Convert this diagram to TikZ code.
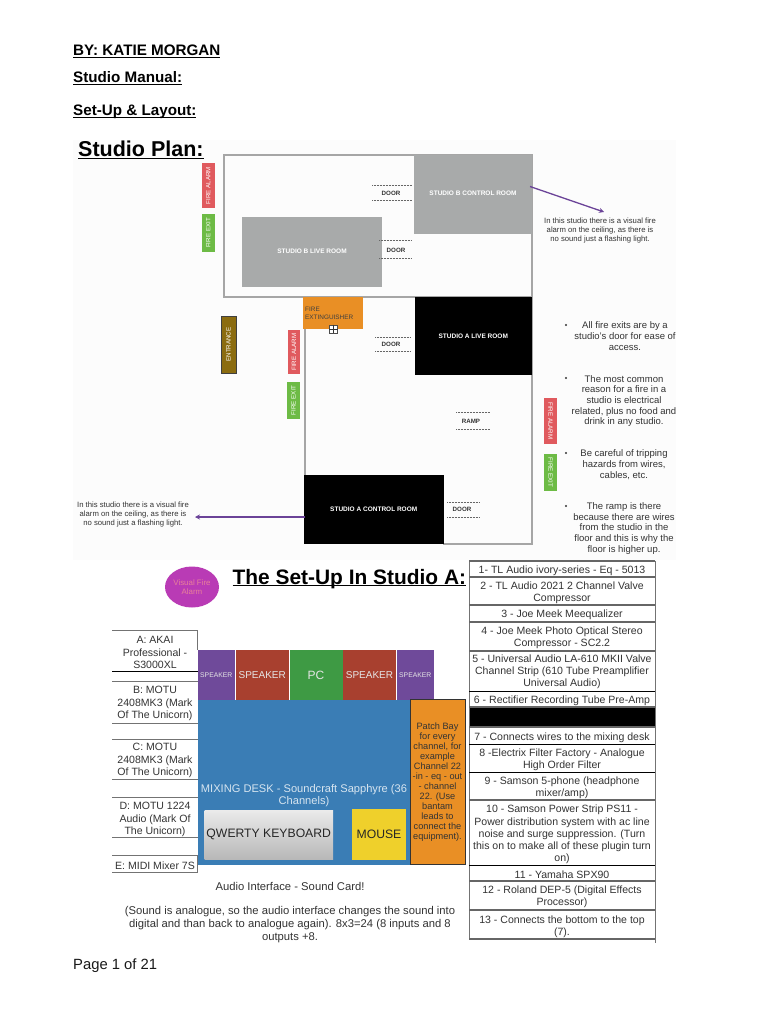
\documentclass[tikz,border=0pt]{standalone}
\usepackage{fontspec}
\setmainfont{Liberation Sans}
\usetikzlibrary{arrows.meta,shapes.geometric}
\definecolor{alarm}{HTML}{E05A5E}
\definecolor{fexit}{HTML}{6DBB45}
\definecolor{entr}{HTML}{8B6C10}
\definecolor{orng}{HTML}{E98F25}
\definecolor{roomgray}{HTML}{A8AAAA}
\definecolor{wall}{HTML}{A6A6A6}
\definecolor{sppurple}{HTML}{6F4A9A}
\definecolor{spred}{HTML}{A8402F}
\definecolor{pcgreen}{HTML}{3E9A44}
\definecolor{deskblue}{HTML}{3A7DB5}
\definecolor{arrowp}{HTML}{6B4398}
\definecolor{txt}{HTML}{333333}
\definecolor{vfa}{HTML}{B93BB5}
\definecolor{vfat}{HTML}{E8809A}
\definecolor{mousey}{HTML}{EFD02B}
\newcommand{\fs}[2]{\fontsize{#1}{#2}\selectfont}
\newcommand{\ul}[1]{\underline{\smash{#1}}}
\newcommand{\bx}[6][]{\node[#2,minimum width=#5-#3,minimum height=#6-#4,#1] at ({(#3+#5)/2},{(#4+#6)/2})}
\tikzset{
 x=1pt,y=-1pt,
 head/.style={anchor=base west,font=\bfseries\fs{15.2}{17},text=black,inner sep=0},
 box/.style={inner sep=0,outer sep=0,draw=none},
 room/.style={box,text=white,font=\bfseries\fs{6.5}{7}},
 tag/.style={box,text=white,font=\fs{6.2}{7}},
 doorlbl/.style={inner sep=0,font=\bfseries\fs{6.2}{7},text=black!80},
 doorline/.style={black!60,densely dotted,line width=.5pt},
 wallline/.style={wall,line width=1.2pt},
 note/.style={inner sep=0,align=center,font=\fs{7.7}{9},text=txt},
 bullet/.style={inner sep=0,align=center,font=\fs{9.5}{10.7},text=txt},
 cell/.style={inner sep=0,align=center,font=\fs{10.55}{12.2},text=txt,yshift=-1.5pt},
 spk/.style={box,text=white!90!black},
 rowline/.style={black!60,line width=1.1pt},
 note2/.style={inner sep=0,align=center,font=\fs{11.25}{13},text=txt},
 parrow/.style={arrowp,line width=1.3pt,-{Stealth[length=5pt,width=5pt]}},
}
\begin{document}
\begin{tikzpicture}
\useasboundingbox (0,0) rectangle (768,1024);
\fill[white] (0,0) rectangle (768,1024);
\fill[black!1] (73,140) rectangle (676,560);

\node[head] (h1) at (73,56) {\ul{BY: KATIE MORGAN}};
\node[head] (h2) at (73,83) {\ul{Studio Manual:}};
\node[head] (h3) at (73,116) {\ul{Set-Up \& Layout:}};
\node[anchor=base west,inner sep=0,font=\bfseries\fs{21.5}{24}] (plan) at (78,156.5) {\ul{Studio Plan:}};

% Studio B frame
\draw[wallline] (224,155) rectangle (532,297);
\bx[room,fill=roomgray]{box}{242}{217}{382}{287} (blive) {\raisebox{1pt}{STUDIO B LIVE ROOM}};
\bx[room,fill=roomgray]{box}{414}{155}{532}{234} (bctrl) {\raisebox{2.5pt}{STUDIO B CONTROL ROOM}};
% Studio A frame
\draw[wallline] (305,329) -- (305,475);
\draw[wallline] (532,297) -- (532,544) -- (443,544);
\bx[room,fill=black]{box}{414.5}{297}{532}{375} (alive) {STUDIO A LIVE ROOM};
\bx[room,fill=black]{box}{304}{475}{443.5}{544} (actrl) {STUDIO A CONTROL ROOM};
% Extinguisher
\bx[fill=orng]{box}{303}{297}{363}{329} (ext) {};
\node[anchor=west,inner sep=0,align=left,font=\fs{6.4}{8},text=black!75] (extl) at (305,313) {FIRE\\EXTINGUISHER};
\node[draw=black!70,fill=white,line width=.6pt,minimum size=8pt,inner sep=0] (plus) at (333.5,329) {};
\draw[black!80,line width=.5pt] (plus.north) -- (plus.south) (plus.west) -- (plus.east);

% Tags
\bx[tag,fill=alarm]{box}{202}{163}{214.5}{208} (a1) {\rotatebox{90}{FIRE ALARM}};
\bx[tag,fill=fexit]{box}{202}{214}{214.5}{252} (e1) {\rotatebox{90}{FIRE EXIT}};
\bx[tag,fill=entr,draw=black!75,line width=.8pt]{box}{221}{316}{236}{373} (ent) {\rotatebox{90}{ENTRANCE}};
\bx[tag,fill=alarm]{box}{288}{330}{300}{374} (a2) {\rotatebox{90}{FIRE ALARM}};
\bx[tag,fill=fexit]{box}{287}{381.5}{300}{419} (e2) {\rotatebox{90}{FIRE EXIT}};
\bx[tag,fill=alarm]{box}{544}{398}{557}{444} (a3) {\rotatebox{-90}{FIRE ALARM}};
\bx[tag,fill=fexit]{box}{544}{454}{557}{491} (e3) {\rotatebox{-90}{FIRE EXIT}};

% Doors
\node[doorlbl] (d1) at (391,193) {DOOR};
\draw[doorline] (372,185) -- (412,185) (372,200) -- (412,200);
\node[doorlbl] (d2) at (396,250.5) {DOOR};
\draw[doorline] (379,240) -- (411,240) (379,258.5) -- (411,258.5);
\node[doorlbl] (d3) at (391,344) {DOOR};
\draw[doorline] (375,337) -- (410,337) (375,351) -- (410,351);
\node[doorlbl] (d4) at (462,509) {DOOR};
\draw[doorline] (447,502) -- (480,502) (447,517) -- (480,517);
\node[doorlbl] (r1) at (471,421) {RAMP};
\draw[doorline] (456,412) -- (490,412) (456,429) -- (490,429);

% Notes and arrows
\node[note] (n1) at (600,231) {In this studio there is a visual fire\\alarm on the ceiling, as there is\\no sound just a flashing light.};
\node[note] (n2) at (133,515) {In this studio there is a visual fire\\alarm on the ceiling, as there is\\no sound just a flashing light.};
\coordinate (t1) at (604,212);
\coordinate (s1) at (530,186.5);
\coordinate (t2) at (195,517);
\coordinate (s2) at (305,517);
\draw[parrow] (s1) -- (t1);
\draw[parrow] (s2) -- (t2);

% Bullets
\node[bullet] (b1) at (625,336) {All fire exits are by a\\studio's door for ease of\\access.};
\node[bullet] (b2) at (624,401) {The most common\\reason for a fire in a\\studio is electrical\\related, plus no food and\\drink in any studio.};
\node[bullet] (b3) at (624,464.5) {Be careful of tripping\\hazards from wires,\\cables, etc.};
\node[bullet] (b4) at (624,528.5) {The ramp is there\\because there are wires\\from the studio in the\\floor and this is why the\\floor is higher up.};
\foreach \yy in {325,378,453,506}{\fill[black!80] (566,\yy) circle (1.1pt);}

% Set-up
\node[ellipse,fill=vfa,minimum width=54pt,minimum height=41pt,inner sep=0,align=center,font=\fs{7.9}{9.5},text=vfat] (vf) at (192,587) {Visual Fire\\Alarm};
\node[anchor=base west,inner sep=0,font=\bfseries\fs{20.9}{22}] (setup) at (232.5,584) {\ul{The Set-Up In Studio A:}};

% Desk
\bx[fill=deskblue]{box}{197.5}{700}{410}{865} (desk) {};
\bx[spk,fill=sppurple,font=\fs{6.8}{8}]{box}{197.5}{650}{235}{700} (s1b) {SPEAKER};
\bx[spk,fill=spred,font=\fs{10}{12}]{box}{235.5}{650}{289}{700} (s2b) {SPEAKER};
\bx[spk,fill=pcgreen,font=\fs{12}{14}]{box}{289.5}{650}{342.5}{700} (pc) {PC};
\bx[spk,fill=spred,font=\fs{10}{12}]{box}{343}{650}{396}{700} (s3b) {SPEAKER};
\bx[spk,fill=sppurple,font=\fs{6.8}{8}]{box}{396.5}{650}{434}{700} (s4b) {SPEAKER};
\bx[fill=orng,draw=black!80,line width=.8pt]{box}{410}{699.5}{465.5}{864} (patch) {};
\node[inner sep=0,align=center,font=\fs{9.2}{10},text=black!80] (patcht) at (437.5,782) {Patch Bay\\for every\\channel, for\\example\\Channel 22\\-in - eq - out\\- channel\\22. (Use\\bantam\\leads to\\connect the\\equipment).};
\node[inner sep=0,align=center,font=\fs{11.1}{12.6},text=white!80!deskblue] (mixt) at (304,795.5) {MIXING DESK - Soundcraft Sapphyre (36\\Channels)};
\bx[top color=white!92!black,bottom color=black!28,text=black!85,font=\fs{12.2}{14}]{box}{204.5}{810}{333}{859} (kb) {QWERTY KEYBOARD};
\bx[fill=mousey,text=black!85,font=\fs{12.2}{14}]{box}{352}{809}{406}{860} (mouse) {MOUSE};

% Left list
\node[cell] (la) at (155,651) {A: AKAI\\Professional -\\S3000XL};
\node[cell] (lb) at (155,702) {B: MOTU\\2408MK3 (Mark\\Of The Unicorn)};
\node[cell] (lc) at (155,759) {C: MOTU\\2408MK3 (Mark\\Of The Unicorn)};
\node[cell] (ld) at (155,818) {D: MOTU 1224\\Audio (Mark Of\\The Unicorn)};
\node[cell] (le) at (155,864) {E: MIDI Mixer 7S};
\draw[black!55,line width=.8pt] (112,630) -- (197.5,630) -- (197.5,650);
\draw[black,line width=.9pt] (112,671.5) -- (197.5,671.5);
\draw[black!55,line width=.9pt] (112,681) -- (197.5,681) (112,723) -- (197.5,723);
\draw[black!55,line width=.9pt] (112,739) -- (197.5,739) (112,779) -- (197.5,779);
\draw[black!55,line width=.9pt] (112,797) -- (197.5,797) (112,837) -- (197.5,837);
\draw[black!55,line width=.9pt] (112,855) -- (197.5,855) -- (197.5,872) -- (112,872);

% Audio text
\node[note2] (au) at (290,886) {Audio Interface - Sound Card!};
\node[note2] (au2) at (290,925) {(Sound is analogue, so the audio interface changes the sound into\\digital and than back to analogue again). 8x3=24 (8 inputs and 8\\outputs +8.};

% Right table
\fill[black] (469,708) rectangle (655,726);
\draw[black!55,line width=.9pt] (469,561) -- (469,939) (655,561) -- (655,943);
\foreach \yy in {561,577,605,622,651,707,727,800,881,910,939}{\draw[rowline] (469,\yy) -- (655,\yy);}
\foreach \yy in {691,744,772,865}{\draw[black,line width=1pt] (469,\yy) -- (655,\yy);}
\node[cell] (r01) at (562,569) {1- TL Audio ivory-series - Eq - 5013};
\node[cell] (r02) at (562,591.5) {2 - TL Audio 2021 2 Channel Valve\\Compressor};
\node[cell] (r03) at (562,613.5) {3 - Joe Meek Meequalizer};
\node[cell] (r04) at (562,636) {4 - Joe Meek Photo Optical Stereo\\Compressor - SC2.2};
\node[cell] (r05) at (562,670) {5 - Universal Audio LA-610 MKII Valve\\Channel Strip (610 Tube Preamplifier\\Universal Audio)};
\node[cell] (r06) at (562,699) {6 - Rectifier Recording Tube Pre-Amp};
\node[cell] (r07) at (562,736) {7 - Connects wires to the mixing desk};
\node[cell] (r08) at (562,758) {8 -Electrix Filter Factory - Analogue\\High Order Filter};
\node[cell] (r09) at (562,786) {9 - Samson 5-phone (headphone\\mixer/amp)};
\node[cell] (r10) at (562,833) {10 - Samson Power Strip PS11 -\\Power distribution system with ac line\\noise and surge suppression. (Turn\\this on to make all of these plugin turn\\on)};
\node[cell] (r11) at (562,873) {11 - Yamaha SPX90};
\node[cell] (r12) at (562,895) {12 - Roland DEP-5 (Digital Effects\\Processor)};
\node[cell] (r13) at (562,925) {13 - Connects the bottom to the top\\(7).};

\node[anchor=base west,inner sep=0,font=\fs{14.8}{16},text=black!90] (pg) at (73,969) {Page 1 of 21};
\end{tikzpicture}
\end{document}
